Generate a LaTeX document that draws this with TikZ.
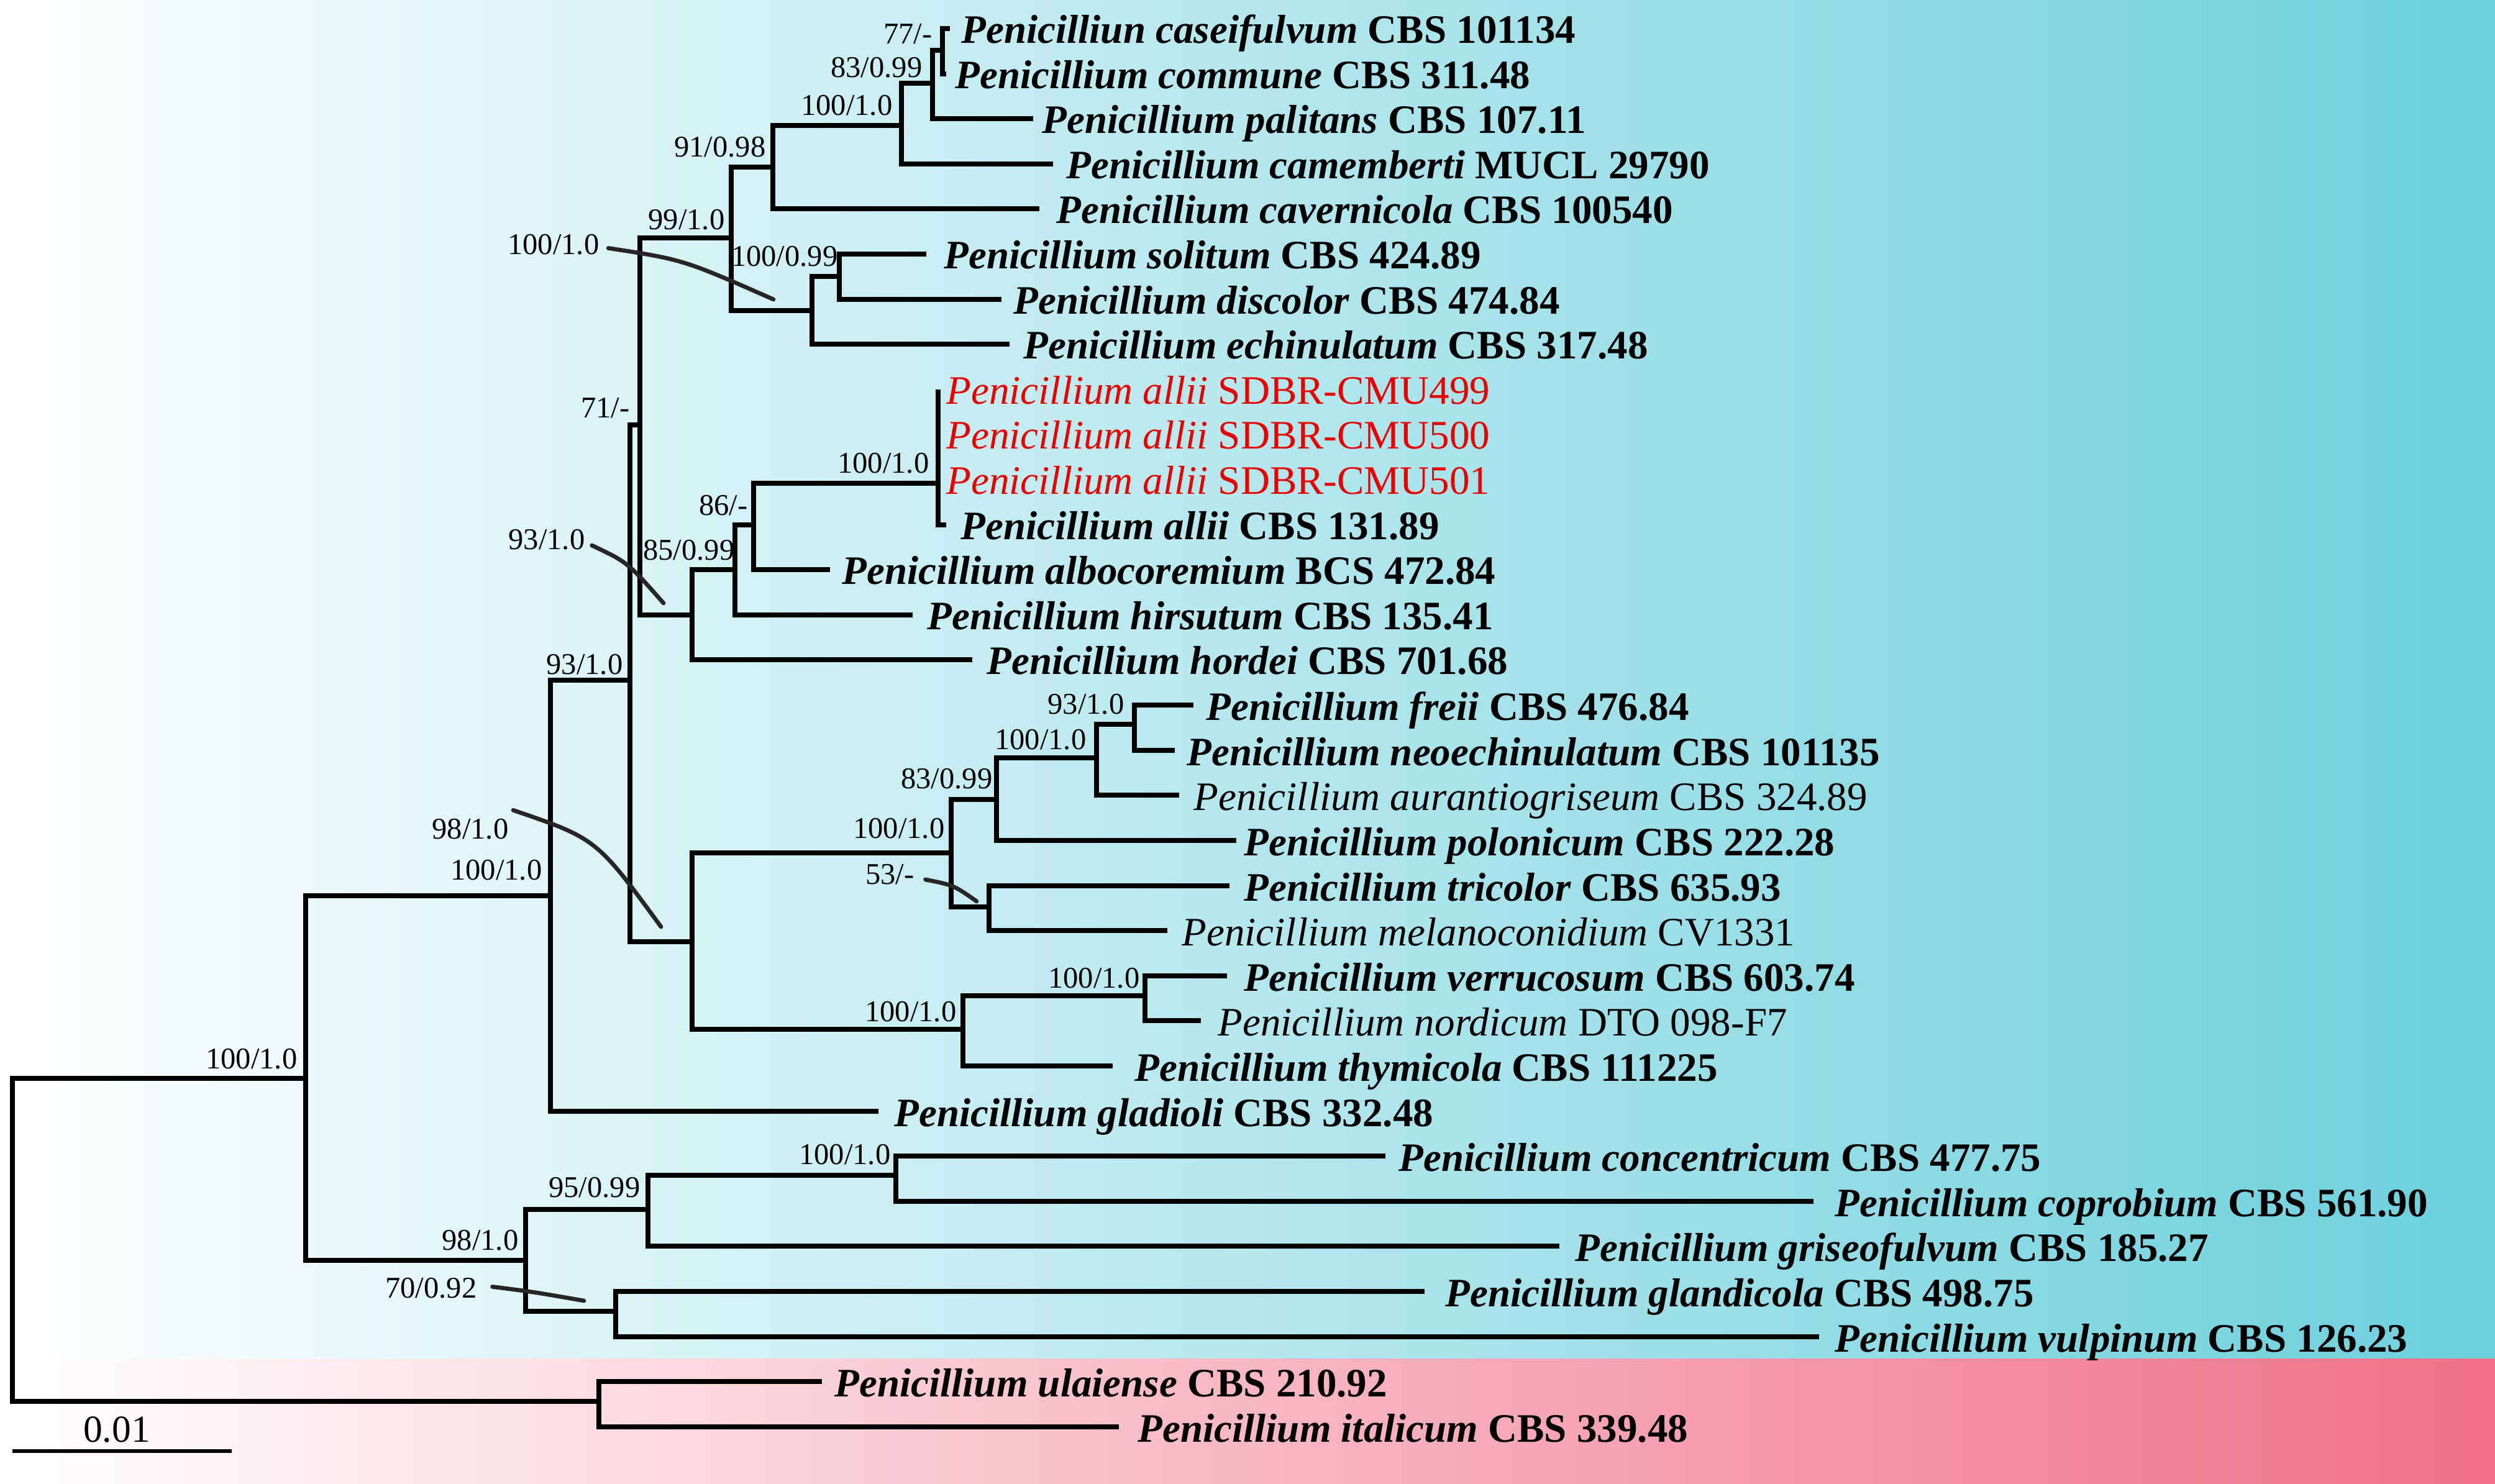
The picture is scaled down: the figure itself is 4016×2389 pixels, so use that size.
\documentclass[tikz,border=0pt]{standalone}
\usepackage{fontspec}
\setmainfont{Liberation Serif}
\definecolor{cyanR}{RGB}{108,208,220}
\definecolor{pinkM}{RGB}{250,178,188}
\definecolor{pinkR}{RGB}{240,112,136}
\definecolor{redtx}{RGB}{235,0,0}
\newcommand\bsp[2]{\textbf{\textit{#1}} \textbf{#2}}
\newcommand\rsp[2]{\textit{#1} #2}
\begin{document}
\begin{tikzpicture}[x=0.01cm,y=-0.01cm,
  br/.style={line width=2.2pt, line join=miter},
  ptr/.style={line width=1.9pt, draw=black!85, line cap=round},
  tip/.style={anchor=base west, inner sep=0pt, font=\fontsize{18.5}{20}\selectfont},
  sup/.style={anchor=base east, inner sep=0pt, font=\fontsize{13.8}{15}\selectfont}]
\useasboundingbox (0,0) rectangle (4016,2389);
% background
\shade[left color=white, right color=cyanR] (0,0) rectangle (4016,2187);
\shade[left color=white, middle color=pinkM, right color=pinkR] (0,2187) rectangle (4016,2389);

% internal nodes
\coordinate (root) at (20,1996);
\coordinate (A) at (492,1736);
\coordinate (B) at (886,1442);
\coordinate (C) at (1014,1095);
\coordinate (F) at (1030,684);
\coordinate (I) at (1177,383);
\coordinate (K) at (1244,269);
\coordinate (N) at (1451,202);
\coordinate (O) at (1501,134);
\coordinate (P) at (1517,81);
\coordinate (L) at (1307,500);
\coordinate (M) at (1351,445);
\coordinate (G) at (1114,990);
\coordinate (H) at (1183,917);
\coordinate (Q) at (1213,845);
\coordinate (R) at (1510,778);
\coordinate (E) at (1114,1516);
\coordinate (S) at (1531,1373);
\coordinate (U) at (1604,1287);
\coordinate (W) at (1765,1220);
\coordinate (X) at (1826,1166);
\coordinate (V) at (1592,1460);
\coordinate (T) at (1550,1657);
\coordinate (Y) at (1843,1603);
\coordinate (D98) at (846,2029);
\coordinate (D95) at (1043,1947);
\coordinate (Z) at (1442,1892);
\coordinate (D70) at (991,2111);
\coordinate (OG) at (964,2256);

% tip ends
\coordinate (e0) at (1529,46);
\coordinate (e1) at (1523,119);
\coordinate (e2) at (1663,191);
\coordinate (e3) at (1695,264);
\coordinate (e4) at (1673,336);
\coordinate (e5) at (1491,409);
\coordinate (e6) at (1612,482);
\coordinate (e7) at (1625,554);
\coordinate (e8) at (1510,627);
\coordinate (e9) at (1510,699);
\coordinate (e10) at (1510,772);
\coordinate (e11) at (1523,845);
\coordinate (e12) at (1336,917);
\coordinate (e13) at (1469,990);
\coordinate (e14) at (1565,1062);
\coordinate (e15) at (1921,1135);
\coordinate (e16) at (1891,1208);
\coordinate (e17) at (1898,1280);
\coordinate (e18) at (1990,1353);
\coordinate (e19) at (1979,1426);
\coordinate (e20) at (1879,1498);
\coordinate (e21) at (1975,1571);
\coordinate (e22) at (1933,1643);
\coordinate (e23) at (1791,1716);
\coordinate (e24) at (1414,1789);
\coordinate (e25) at (2230,1861);
\coordinate (e26) at (2919,1934);
\coordinate (e27) at (2510,2006);
\coordinate (e28) at (2293,2079);
\coordinate (e29) at (2928,2152);
\coordinate (e30) at (1323,2224);
\coordinate (e31) at (1801,2297);

% branches
\draw[br] (root) |- (A);  \draw[br] (root) |- (OG);
\draw[br] (A) |- (B);     \draw[br] (A) |- (D98);
\draw[br] (B) |- (C);     \draw[br] (B) |- (e24);
\draw[br] (C) |- (F);     \draw[br] (C) |- (E);
\draw[br] (F) |- (I);     \draw[br] (F) |- (G);
\draw[br] (I) |- (K);     \draw[br] (I) |- (L);
\draw[br] (K) |- (N);     \draw[br] (K) |- (e4);
\draw[br] (N) |- (O);     \draw[br] (N) |- (e3);
\draw[br] (O) |- (P);     \draw[br] (O) |- (e2);
\draw[br] (P) |- (e0);    \draw[br] (P) |- (e1);
\draw[br] (L) |- (M);     \draw[br] (L) |- (e7);
\draw[br] (M) |- (e5);    \draw[br] (M) |- (e6);
\draw[br] (G) |- (H);     \draw[br] (G) |- (e14);
\draw[br] (H) |- (Q);     \draw[br] (H) |- (e13);
\draw[br] (Q) |- (R);     \draw[br] (Q) |- (e12);
\draw[br] (R) |- (e8);    \draw[br] (R) |- (e9);
\draw[br] (R) |- (e10);   \draw[br] (R) |- (e11);
\draw[br] (E) |- (S);     \draw[br] (E) |- (T);
\draw[br] (S) |- (U);     \draw[br] (S) |- (V);
\draw[br] (U) |- (W);     \draw[br] (U) |- (e18);
\draw[br] (W) |- (X);     \draw[br] (W) |- (e17);
\draw[br] (X) |- (e15);   \draw[br] (X) |- (e16);
\draw[br] (V) |- (e19);   \draw[br] (V) |- (e20);
\draw[br] (T) |- (Y);     \draw[br] (T) |- (e23);
\draw[br] (Y) |- (e21);   \draw[br] (Y) |- (e22);
\draw[br] (D98) |- (D95); \draw[br] (D98) |- (D70);
\draw[br] (D95) |- (Z);   \draw[br] (D95) |- (e27);
\draw[br] (Z) |- (e25);   \draw[br] (Z) |- (e26);
\draw[br] (D70) |- (e28); \draw[br] (D70) |- (e29);
\draw[br] (OG) |- (e30);  \draw[br] (OG) |- (e31);

% taxa
\node[tip] (n0) at (1547,70) {\bsp{Penicilliun caseifulvum}{CBS 101134}};
\node[tip] (n1) at (1537,143) {\bsp{Penicillium commune}{CBS 311.48}};
\node[tip] (n2) at (1677,215) {\bsp{Penicillium palitans}{CBS 107.11}};
\node[tip] (n3) at (1716,288) {\bsp{Penicillium camemberti}{MUCL 29790}};
\node[tip] (n4) at (1700,360) {\bsp{Penicillium cavernicola}{CBS 100540}};
\node[tip] (n5) at (1519,433) {\bsp{Penicillium solitum}{CBS 424.89}};
\node[tip] (n6) at (1631,506) {\bsp{Penicillium discolor}{CBS 474.84}};
\node[tip] (n7) at (1647,578) {\bsp{Penicillium echinulatum}{CBS 317.48}};
\node[tip,text=redtx] (n8) at (1523,651) {\rsp{Penicillium allii}{SDBR-CMU499}};
\node[tip,text=redtx] (n9) at (1523,723) {\rsp{Penicillium allii}{SDBR-CMU500}};
\node[tip,text=redtx] (n10) at (1523,796) {\rsp{Penicillium allii}{SDBR-CMU501}};
\node[tip] (n11) at (1546,869) {\bsp{Penicillium allii}{CBS 131.89}};
\node[tip] (n12) at (1355,941) {\bsp{Penicillium albocoremium}{BCS 472.84}};
\node[tip] (n13) at (1492,1014) {\bsp{Penicillium hirsutum}{CBS 135.41}};
\node[tip] (n14) at (1588,1086) {\bsp{Penicillium hordei}{CBS 701.68}};
\node[tip] (n15) at (1941,1159) {\bsp{Penicillium freii}{CBS 476.84}};
\node[tip] (n16) at (1910,1232) {\bsp{Penicillium neoechinulatum}{CBS 101135}};
\node[tip] (n17) at (1921,1304) {\rsp{Penicillium aurantiogriseum}{CBS 324.89}};
\node[tip] (n18) at (2002,1377) {\bsp{Penicillium polonicum}{CBS 222.28}};
\node[tip] (n19) at (2002,1450) {\bsp{Penicillium tricolor}{CBS 635.93}};
\node[tip] (n20) at (1902,1522) {\rsp{Penicillium melanoconidium}{CV1331}};
\node[tip] (n21) at (2002,1595) {\bsp{Penicillium verrucosum}{CBS 603.74}};
\node[tip] (n22) at (1960,1667) {\rsp{Penicillium nordicum}{DTO 098-F7}};
\node[tip] (n23) at (1826,1740) {\bsp{Penicillium thymicola}{CBS 111225}};
\node[tip] (n24) at (1439,1813) {\bsp{Penicillium gladioli}{CBS 332.48}};
\node[tip] (n25) at (2251,1885) {\bsp{Penicillium concentricum}{CBS 477.75}};
\node[tip] (n26) at (2953,1958) {\bsp{Penicillium coprobium}{CBS 561.90}};
\node[tip] (n27) at (2535,2030) {\bsp{Penicillium griseofulvum}{CBS 185.27}};
\node[tip] (n28) at (2326,2103) {\bsp{Penicillium glandicola}{CBS 498.75}};
\node[tip] (n29) at (2953,2176) {\bsp{Penicillium vulpinum}{CBS 126.23}};
\node[tip] (n30) at (1343,2248) {\bsp{Penicillium ulaiense}{CBS 210.92}};
\node[tip] (n31) at (1831,2321) {\bsp{Penicillium italicum}{CBS 339.48}};

% support values
\node[sup] (s77) at (1501,71) {77/-};
\node[sup] (s83a) at (1485,125) {83/0.99};
\node[sup] (s100N) at (1437,186) {100/1.0};
\node[sup] (s91) at (1233,253) {91/0.98};
\node[sup] (s99) at (1167,370) {99/1.0};
\node[sup] (s100L) at (965,410) {100/1.0};
\node[sup] (s100M) at (1349,429) {100/0.99};
\node[sup] (s71) at (1014,673) {71/-};
\node[sup] (s100R) at (1496,762) {100/1.0};
\node[sup] (s86) at (1204,830) {86/-};
\node[sup] (s93G) at (942,885) {93/1.0};
\node[sup] (s85) at (1183,902) {85/0.99};
\node[sup] (s93C) at (1003,1086) {93/1.0};
\node[sup] (s93X) at (1810,1149) {93/1.0};
\node[sup] (s100W) at (1749,1206) {100/1.0};
\node[sup] (s83U) at (1598,1269) {83/0.99};
\node[sup] (s98E) at (819,1350) {98/1.0};
\node[sup] (s100S) at (1521,1349) {100/1.0};
\node[sup] (s100B) at (873,1416) {100/1.0};
\node[sup] (s53) at (1472,1423) {53/-};
\node[sup] (s100Y) at (1835,1590) {100/1.0};
\node[sup] (s100T) at (1540,1644) {100/1.0};
\node[sup] (s100A) at (479,1720) {100/1.0};
\node[sup] (s100Z) at (1434,1874) {100/1.0};
\node[sup] (s95) at (1031,1927) {95/0.99};
\node[sup] (s98D) at (835,2012) {98/1.0};
\node[sup] (s70) at (768,2089) {70/0.92};

% pointers
\coordinate (pL) at (1245,482);
\coordinate (pG) at (1068,971);
\coordinate (pE) at (1064,1492);
\coordinate (pV) at (1572,1451);
\coordinate (p70) at (940,2094);
\draw[ptr] ([xshift=4pt,yshift=3pt]s100L.base east) .. controls (1100,418) .. (pL);
\draw[ptr] ([xshift=3pt,yshift=2pt]s93G.base east) .. controls (1010,905) .. (pG);
\draw[ptr] ([xshift=2pt,yshift=13pt]s98E.base east) .. controls (960,1350) .. (pE);
\draw[ptr] ([xshift=5pt,yshift=2pt]s53.base east) .. controls (1535,1425) .. (pV);
\draw[ptr] ([xshift=7pt,yshift=5pt]s70.base east) .. controls (860,2080) .. (p70);

% scale bar
\coordinate (sb1) at (20,2336);
\coordinate (sb2) at (373,2336);
\draw[line width=1.8pt] (sb1) -- (sb2);
\node[anchor=base, inner sep=0pt, font=\fontsize{17.5}{19}\selectfont] (sbl) at (188,2321) {0.01};
\end{tikzpicture}
\end{document}
